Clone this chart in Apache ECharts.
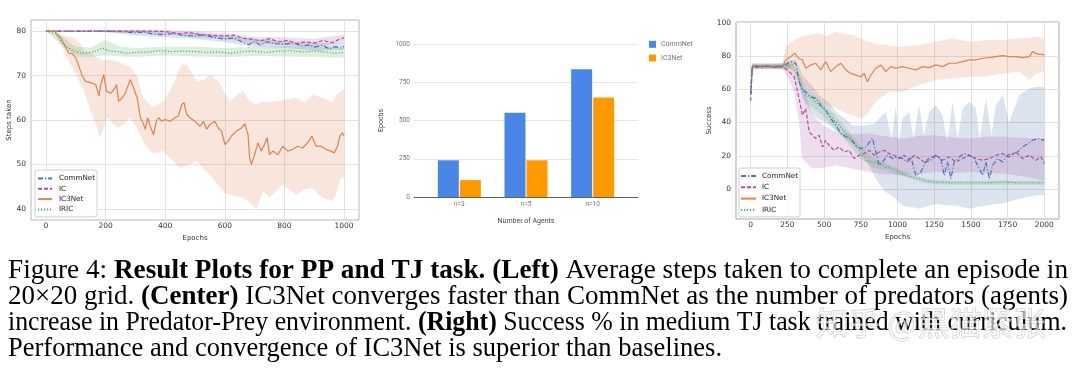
<!DOCTYPE html>
<html><head><meta charset="utf-8">
<script src="https://cdn.jsdelivr.net/npm/echarts@6/dist/echarts.min.js"></script>
<style>html,body{margin:0;padding:0;background:#fff}#c{width:1075px;height:379px}</style>
</head><body><div id="c"></div><script>
// ---------- Left: Predator-Prey steps taken ----------
const ppXTicks = [0, 200, 400, 600, 800, 1000];
const ppYTicks = [40, 50, 60, 70, 80];
const ppCommNet = [[0,80],[100,80],[200,80],[250,79.9],[300,79.6],[330,79.8],[360,79.3],[400,79.2],[430,79.5],[460,79.0],[500,78.9],[530,79.2],[560,78.6],[600,78.2],[630,78.5],[660,77.5],[680,77.0],[700,77.6],[720,76.8],[740,77.6],[770,77.2],[800,77.0],[830,77.4],[860,76.6],[880,76.9],[900,76.4],[930,76.8],[950,76.0],[970,76.5],[990,76.2],[1000,76.6]];
const ppIC = [[0,80],[200,80],[350,80],[400,79.9],[450,79.4],[480,79.7],[520,79.2],[560,79.0],[600,78.9],[630,79.1],[660,78.4],[690,78.2],[720,77.8],[750,78.3],[780,77.6],[810,77.9],[840,77.2],[870,77.6],[900,77.3],[930,77.9],[960,77.4],[985,78.2],[1000,78.5]];
const ppIC3Net = [[0,80],[28,80],[50,78.5],[67,76.2],[78,75],[89,74.9],[100,74],[111,72],[122,69.9],[133,68.7],[150,68.4],[167,68],[178,65.4],[183,67.6],[194,70.2],[203,66.5],[217,66],[228,66.8],[237,68],[244,64.2],[256,65],[267,66.1],[283,69.1],[294,67.2],[306,65],[317,60.5],[328,59],[333,57.9],[341,60.5],[350,58.6],[361,56.7],[370,59.7],[378,60.5],[389,59.7],[400,60.1],[417,59.7],[433,60.5],[444,60.9],[456,63.5],[463,63.9],[472,61.3],[483,60.5],[500,59.7],[517,58.6],[528,59.7],[539,57.9],[550,59],[567,59.7],[578,58.2],[589,57.5],[600,54.5],[611,55.2],[622,56.4],[639,57.5],[656,58.2],[667,59.1],[678,56.7],[683,51.5],[689,50],[700,52.2],[711,54.9],[722,53],[733,54.5],[742,56],[750,52.2],[761,53],[778,52.2],[794,54.1],[811,53],[828,53.4],[844,54.1],[861,53.7],[878,54.9],[892,56.4],[906,54.1],[922,54.1],[939,53.4],[956,53],[967,52.6],[978,54.1],[986,56.4],[994,57.1],[1000,56.4]];
const ppIRIC = [[0,80],[30,79.5],[60,77],[80,76],[100,75.3],[130,75],[160,75.3],[190,76.2],[210,75.6],[240,75.4],[270,75],[300,75.2],[340,75.3],[380,75.6],[420,75.4],[460,75.5],[500,75.4],[540,75.2],[580,75.3],[620,75],[660,75.4],[700,75.5],[740,75.2],[780,75.5],[820,75.6],[860,75.3],[900,75.5],[940,75.3],[970,75],[1000,75.2]];
// bands: [epoch, low, high]
const ppCommNetBand = [[0,80,80],[200,79.8,80.2],[300,79.0,80.2],[400,78.6,79.8],[500,78.2,79.6],[600,77.5,79.0],[700,76.5,78.3],[800,76.2,77.8],[900,75.6,77.3],[1000,75.8,77.4]];
const ppICBand = [[0,80,80],[300,79.6,80.3],[400,79.3,80.3],[500,78.6,79.9],[600,78.2,79.6],[700,77.2,78.7],[800,76.9,78.6],[900,76.5,78.3],[1000,77.5,79.2]];
const ppIRICBand = [[0,80,80],[50,77,79],[100,74.3,76.5],[150,74.2,76.3],[200,74.5,78.0],[250,74.3,76.5],[300,74.2,76.2],[400,74.5,76.5],[500,74.3,76.5],[600,74.1,76.2],[700,74.4,76.5],[800,74.3,76.6],[900,74.2,76.6],[1000,74.0,76.3]];
const ppIC3NetBand = [[0,80,80],[30,79.5,80],[61,75.5,79],[94,71,78.5],[117,68,77],[128,66.5,75.5],[150,62,75],[172,58.2,74],[180,56,73.8],[190,57.5,73.5],[206,60.5,73.5],[239,58.2,73.2],[260,59,72.5],[283,60.5,71.8],[306,58,69.9],[317,56.7,67],[328,55,65],[350,53,63.5],[361,52.5,62.8],[394,53,64.2],[428,50.7,68],[445,49.5,71],[456,49.2,72.5],[472,49.8,72.5],[506,50.7,68.7],[530,49,69],[550,47.7,70.2],[583,45,68.4],[600,43.5,66],[617,43.2,64.2],[640,42.8,65.5],[661,42.5,66.5],[683,41.5,64.2],[706,39.9,63.5],[728,44,64.2],[750,42.5,64],[772,44,64.2],[794,45.5,64.5],[839,43.2,65],[870,44.5,64],[894,44.7,65.7],[928,42.5,65],[961,41.8,64],[972,43,65.4],[989,47,66.5],[1000,47,66.9]];

// ---------- Center: epochs to converge ----------
const agentCats = ['n=3', 'n=5', 'n=10'];
const barCommNet = [240, 550, 835];
const barIC3Net = [110, 240, 650];
const barYTicks = [0, 250, 500, 750, 1000];

// ---------- Right: Traffic Junction success ----------
const tjXTicks = [0, 250, 500, 750, 1000, 1250, 1500, 1750, 2000];
const tjYTicks = [0, 20, 40, 60, 80, 100];
const tjCommNet = [[0,57],[11,74],[60,73.6],[100,74],[150,73.4],[216,74],[250,75.5],[273,76.6],[307,75.6],[330,64.5],[352,59.5],[375,58.5],[409,55.5],[443,54.5],[477,50.4],[511,47.4],[545,42.4],[580,38.4],[614,33.4],[648,31.4],[682,30.4],[716,26.3],[750,24.3],[784,25.3],[830,30.4],[852,22.3],[875,14.3],[898,16.3],[932,20.3],[966,18.3],[1000,19.3],[1034,18.3],[1068,16.3],[1091,19.3],[1125,8.2],[1159,10.3],[1193,16.3],[1227,17.3],[1261,20.3],[1295,18.3],[1318,8.2],[1341,16.3],[1364,6.2],[1386,16.3],[1420,19.3],[1455,21.3],[1489,20.3],[1523,18.3],[1545,14.3],[1580,8.2],[1602,16.3],[1625,6.2],[1648,14.3],[1682,18.3],[1716,16.3],[1750,20.3],[1784,21.3],[1818,22.3],[1852,25.3],[1886,27.3],[1920,29.3],[1955,30.4],[2000,29.3]];
const tjIC = [[0,53],[11,73],[60,73.4],[120,73.8],[180,73.2],[216,73.6],[261,70.6],[296,67.5],[330,54.5],[352,44.4],[375,48.4],[398,34.4],[420,32.4],[443,30.4],[466,32.4],[489,25.3],[511,29.3],[534,26.3],[568,23.3],[602,25.3],[636,22.3],[670,23.3],[705,18.3],[739,20.3],[773,21.3],[807,23.3],[841,20.3],[875,22.3],[909,23.3],[943,21.3],[977,20.3],[1011,18.3],[1045,20.3],[1080,17.3],[1114,20.3],[1148,18.3],[1182,16.3],[1216,18.3],[1261,20.3],[1307,17.3],[1352,19.3],[1398,16.3],[1443,18.3],[1489,20.3],[1534,18.3],[1580,17.3],[1625,18.3],[1670,20.3],[1716,21.3],[1761,19.3],[1807,22.3],[1852,18.3],[1898,20.3],[1943,17.3],[1977,19.3],[2000,15.3]];
const tjIC3Net = [[0,57.5],[11,73.6],[34,74],[125,73.6],[216,73.6],[239,77.6],[273,79.6],[302,81.6],[325,78.6],[352,77.6],[375,72.6],[409,74.6],[443,75.6],[477,71.6],[511,76.6],[545,70.6],[580,73.6],[614,75.6],[648,71.6],[682,69.5],[716,68.5],[750,67.5],[773,69.5],[795,64.5],[818,68.5],[852,72.6],[886,74.6],[920,70.6],[955,73.6],[989,72.6],[1034,73.6],[1080,72.6],[1125,71.6],[1170,73.6],[1216,73],[1261,74.6],[1307,73.6],[1352,75.6],[1398,75.6],[1443,76.6],[1489,77.6],[1534,77.6],[1580,78.6],[1625,79],[1670,79.6],[1716,80.2],[1761,79.6],[1807,79.6],[1852,79],[1898,79.6],[1920,82.6],[1955,81],[1989,81],[2000,80.2]];
const tjIRIC = [[0,58],[11,74],[100,73.8],[216,74],[284,74.6],[318,68.5],[341,62.5],[375,56.5],[420,54.5],[466,50.4],[511,47.4],[557,42.4],[602,38.4],[648,33.4],[693,28.3],[739,23.3],[784,17.3],[830,16.3],[875,15.3],[920,13.3],[966,12.3],[1011,10.3],[1057,8.2],[1102,7.2],[1148,6.2],[1193,4.8],[1261,4.2],[1375,3.8],[1489,3.8],[1602,3.8],[1716,4.2],[1830,3.8],[2000,3.8]];
const tjCommNetBand = [[0,55,60],[11,72.5,75.5],[216,72.5,75.5],[270,73,77.5],[307,74.6,77.6],[330,63,74],[352,54.5,68.5],[420,44.4,62],[466,42,56.5],[534,38.4,52],[580,35,46.4],[648,30.4,42],[693,27,38.4],[761,22.3,38],[807,14,38.4],[852,6.2,40],[875,3,42.4],[920,-1.8,46.4],[960,-4,30],[989,-6,50.4],[1010,-8,28],[1034,-9.9,42.4],[1080,-11,46.4],[1110,-11,30],[1148,-11.9,50.4],[1180,-11,32],[1216,-10,46.4],[1261,-8.8,50.4],[1307,-9.5,44.4],[1340,-9.7,28],[1375,-9.9,52.5],[1410,-10,30],[1443,-11,48.4],[1489,-11.9,52.5],[1534,-11,48.4],[1560,-10.5,30],[1602,-9.9,54.5],[1640,-9.5,32],[1670,-9,50.4],[1716,-8.8,56.5],[1760,-7.5,40],[1830,-5.8,56.5],[1898,-4.5,60.5],[1943,-3.8,61.5],[2000,-3.8,61.5]];
const tjICBand = [[0,52,56],[11,72,74.5],[216,72,75],[261,66,75],[296,58,72],[330,40,68],[352,18.3,62.5],[398,14,50],[420,12.3,44.4],[500,13,38],[580,14.3,34.4],[700,12,33],[807,10.3,33.4],[900,9,32],[1034,8.2,30.4],[1148,9,32],[1261,10.3,32.4],[1375,9.5,31],[1489,10.3,30.4],[1600,9.5,31.5],[1716,9.3,31.4],[1830,8,31],[1943,6.2,30.4],[2000,5.2,30.4]];
const tjIC3NetBand = [[0,55,60],[11,72,75.5],[100,72.5,75],[216,72,75.5],[239,72.6,85.6],[270,71.5,88],[307,70.6,90],[352,62,91.7],[420,56.5,93],[466,52,93.7],[520,50,92],[580,48.4,94.7],[640,46,93],[693,44,92.7],[761,42.4,90],[807,46.4,88.6],[852,52.5,87],[920,57,86.6],[943,58.5,86],[1034,58.5,85.6],[1148,62.5,86.6],[1261,65.5,88.6],[1375,66.5,90.7],[1489,67.5,88.6],[1602,67.5,89.6],[1716,69.5,89.6],[1830,70.6,90.7],[1898,65.5,91],[1943,69.5,91.7],[2000,70.6,90.7]];
const tjIRICBand = [[0,55,60],[11,72.5,75.5],[216,72.5,75.5],[284,72,76],[318,65,72],[375,52,60],[466,46,54],[557,38,46],[648,29,37],[739,19,27],[830,13,19],[920,11,15.5],[1011,8.5,12],[1102,5.8,8.6],[1193,3.5,6.2],[1261,3,5.4],[1375,2.6,5],[1600,2.6,5],[1830,2.6,5],[2000,2.6,5]];

const lineNames = ['CommNet', 'IC', 'IC3Net', 'IRIC'];
const captionLines = [
  [['Figure 4: ',0],['Result Plots for PP and TJ task.',1],[' ',0],['(Left)',1],[' Average steps taken to complete an episode in',0]],
  [['20\u00d720 grid. ',0],['(Center)',1],[' IC3Net converges faster than CommNet as the number of predators (agents)',0]],
  [['increase in Predator-Prey environment. ',0],['(Right)',1],[' Success % in medium TJ task trained with curriculum.',0]],
  [['Performance and convergence of IC3Net is superior than baselines.',0]]
];
const watermark = '知乎 @黑猫紧张';

// ---------- styles ----------
const C = {CommNet:'#4c72b0', IC:'#a9559f', IC3Net:'#dd8452', IRIC:'#55a868'};
const LT = {CommNet:[5,2,1.2,2], IC:[4,2], IC3Net:'solid', IRIC:[1.2,1.8]};

function lineS(name, data, ax){
  return {type:'line', name, xAxisIndex:ax, yAxisIndex:ax, data, symbol:'none', showSymbol:false,
    lineStyle:{color:C[name], width:1.2, type:LT[name]}, itemStyle:{color:C[name]}, z:4, animation:false};
}
function bandS(id, name, rows, ax){
  return {type:'custom', name:id, coordinateSystem:'cartesian2d', xAxisIndex:ax, yAxisIndex:ax,
    data: rows, encode:{x:0, y:[1,2]}, silent:true, animation:false, z:1, clip:true,
    renderItem:function(params, api){
      if (params.dataIndex !== 0) return null;
      const top = rows.map(r=>api.coord([r[0], r[2]]));
      const bot = rows.slice().reverse().map(r=>api.coord([r[0], r[1]]));
      return {type:'polygon', shape:{points: top.concat(bot)}, style:{fill:C[name], opacity:0.2}};
    }};
}

const gridLine = {show:true, lineStyle:{color:'#e2e2e2', width:1}};
const plain = v => String(v);
function mplX(min, max, ticks, grid, gap){
  return {type:'value', gridIndex:grid, min, max, name:'Epochs', nameLocation:'middle', nameGap:gap,
    nameTextStyle:{fontSize:7, color:'#333', fontFamily:'DejaVu Sans'},
    axisLine:{show:false}, axisTick:{show:false, customValues:ticks},
    axisLabel:{customValues:ticks, formatter:plain, fontSize:7.5, color:'#333', margin:2, fontFamily:'DejaVu Sans'},
    splitLine:gridLine};
}
function mplY(name, min, max, ticks, grid, gap){
  return {type:'value', gridIndex:grid, min, max, name, nameLocation:'middle', nameGap:gap,
    nameTextStyle:{fontSize:7, color:'#333', fontFamily:'DejaVu Sans'},
    axisLine:{show:false}, axisTick:{show:false, customValues:ticks},
    axisLabel:{customValues:ticks, formatter:plain, fontSize:7.5, color:'#333', margin:5, fontFamily:'DejaVu Sans'},
    splitLine:gridLine};
}

const series = [];
series.push(bandS('ppb-IC3Net','IC3Net',ppIC3NetBand,0));
series.push(bandS('ppb-IRIC','IRIC',ppIRICBand,0));
series.push(bandS('ppb-CommNet','CommNet',ppCommNetBand,0));
series.push(bandS('ppb-IC','IC',ppICBand,0));
series.push(lineS('CommNet',ppCommNet,0), lineS('IC',ppIC,0), lineS('IC3Net',ppIC3Net,0), lineS('IRIC',ppIRIC,0));
series.push(bandS('tjb-CommNet','CommNet',tjCommNetBand,1));
series.push(bandS('tjb-IC','IC',tjICBand,1));
series.push(bandS('tjb-IC3Net','IC3Net',tjIC3NetBand,1));
series.push(bandS('tjb-IRIC','IRIC',tjIRICBand,1));
series.push(lineS('IRIC',tjIRIC,1), lineS('IC3Net',tjIC3Net,1), lineS('IC',tjIC,1), lineS('CommNet',tjCommNet,1));
series.push({type:'bar', name:'CommNet (PP)', xAxisIndex:3, yAxisIndex:3, data:barCommNet, barWidth:21, barGap:'5%', itemStyle:{color:'#4a86e8'}, animation:false});
series.push({type:'bar', name:'IC3Net (PP)', xAxisIndex:3, yAxisIndex:3, data:barIC3Net, barWidth:21, barGap:'5%', itemStyle:{color:'#ff9900'}, animation:false});

// caption measurement (fits each line to the width it spans in the figure)
const mctx = document.createElement('canvas').getContext('2d');
function w(font, t){ mctx.font = font; return mctx.measureText(t).width; }
const CAP_FAM = 'Liberation Serif', CAP_SIZE = 26.5;
function measure(segs){
  let s = 0;
  for (const [t,b] of segs){ s += w((b?'bold ':'')+CAP_SIZE+'px "'+CAP_FAM+'"', t); }
  return s;
}
const capTargets = [1060, 1060, 1059, 714];
const capY = [271, 297, 323, 349];
const graphics = captionLines.map((segs,i)=>{
  const s = capTargets[i] / measure(segs);
  return {type:'text', x:8, y:capY[i], scaleX:s, silent:true,
    style:{text: segs.map(([t,b])=>(b?'{b|':'{n|')+t+'}').join(''), verticalAlign:'middle',
      rich:{n:{fontSize:CAP_SIZE, fontFamily:CAP_FAM, fill:'#000'}, b:{fontSize:CAP_SIZE, fontFamily:CAP_FAM, fontWeight:'bold', fill:'#000'}}}};
});
graphics.push({type:'text', x:816, y:323, silent:true, z:100,
  style:{text:watermark, fontSize:32, fontFamily:'Noto Sans CJK SC', fill:'rgba(255,255,255,0.6)', stroke:'rgba(150,150,150,0.5)', lineWidth:1, verticalAlign:'middle'}});

const legendBase = {orient:'vertical', data:lineNames, borderColor:'#d0d0d0', borderWidth:1, borderRadius:2,
  backgroundColor:'rgba(255,255,255,0.85)', itemGap:1.3, selectedMode:false,
  itemStyle:{color:'transparent', borderColor:'transparent', borderWidth:0}};

const option = {
  backgroundColor:'#fff',
  animation:false,
  grid:[
    {left:31, top:20, width:328, height:200, show:true, borderColor:'#b8b8b8', borderWidth:1, backgroundColor:'transparent'},
    {left:736, top:22, width:323, height:197, show:true, borderColor:'#a8a8a8', borderWidth:1, backgroundColor:'transparent'},
    {left:414, top:44, width:224, height:153},
    {left:426, top:44, width:200, height:153}
  ],
  xAxis:[
    mplX(-50, 1050, ppXTicks, 0, 11),
    mplX(-100, 2100, tjXTicks, 1, 10),
    {type:'value', gridIndex:2, min:0, max:1, axisLine:{show:true, lineStyle:{color:'#5f5f5f', width:1}}, axisTick:{show:false}, axisLabel:{show:false}, splitLine:{show:false}},
    {type:'category', gridIndex:3, data:agentCats, name:'Number of Agents', nameLocation:'middle', nameGap:21,
      nameTextStyle:{fontSize:7, color:'#444', fontFamily:'Roboto'},
      axisLine:{show:false}, axisTick:{show:false}, axisLabel:{fontSize:6.5, color:'#757575', margin:4, fontFamily:'Roboto'}, splitLine:{show:false}}
  ],
  yAxis:[
    mplY('Steps taken', 37.5, 82.5, ppYTicks, 0, 15),
    mplY('Success', -18, 100.4, tjYTicks, 1, 19),
    {type:'value', gridIndex:2, min:0, max:1000, interval:250, name:'Epochs', nameLocation:'middle', nameGap:29,
      nameTextStyle:{fontSize:7, color:'#444', fontFamily:'Roboto'},
      axisLine:{show:false}, axisTick:{show:false},
      axisLabel:{formatter:plain, fontSize:6.5, color:'#757575', margin:4, fontFamily:'Roboto'},
      splitLine:{show:true, lineStyle:{color:'#e6e6e6'}}},
    {type:'value', gridIndex:3, min:0, max:1000, show:false}
  ],
  legend:[
    Object.assign({}, legendBase, {left:35, top:170, padding:[4,2,3,2], itemWidth:14, itemHeight:9,
      textStyle:{fontSize:7.2, lineHeight:9, color:'#222', fontFamily:'DejaVu Sans', padding:[0,0,0,2]}}),
    Object.assign({}, legendBase, {left:739, top:168, padding:[3,2,2,1], itemWidth:15, itemHeight:10,
      textStyle:{fontSize:7.2, lineHeight:10, color:'#222', fontFamily:'DejaVu Sans', padding:[0,0,0,1]}}),
    {orient:'vertical', left:649, top:40.8, padding:0, data:['CommNet (PP)','IC3Net (PP)'], icon:'rect', itemWidth:7, itemHeight:7, itemGap:6.7,
      selectedMode:false, formatter:n=>n.replace(' (PP)',''), textStyle:{fontSize:7, lineHeight:7, color:'#757575', fontFamily:'Roboto'}}
  ],
  graphic:graphics,
  series
};
const chart = echarts.init(document.getElementById('c'), null, {width:1075, height:379, renderer:'canvas'});
chart.setOption(option);
</script></body></html>
